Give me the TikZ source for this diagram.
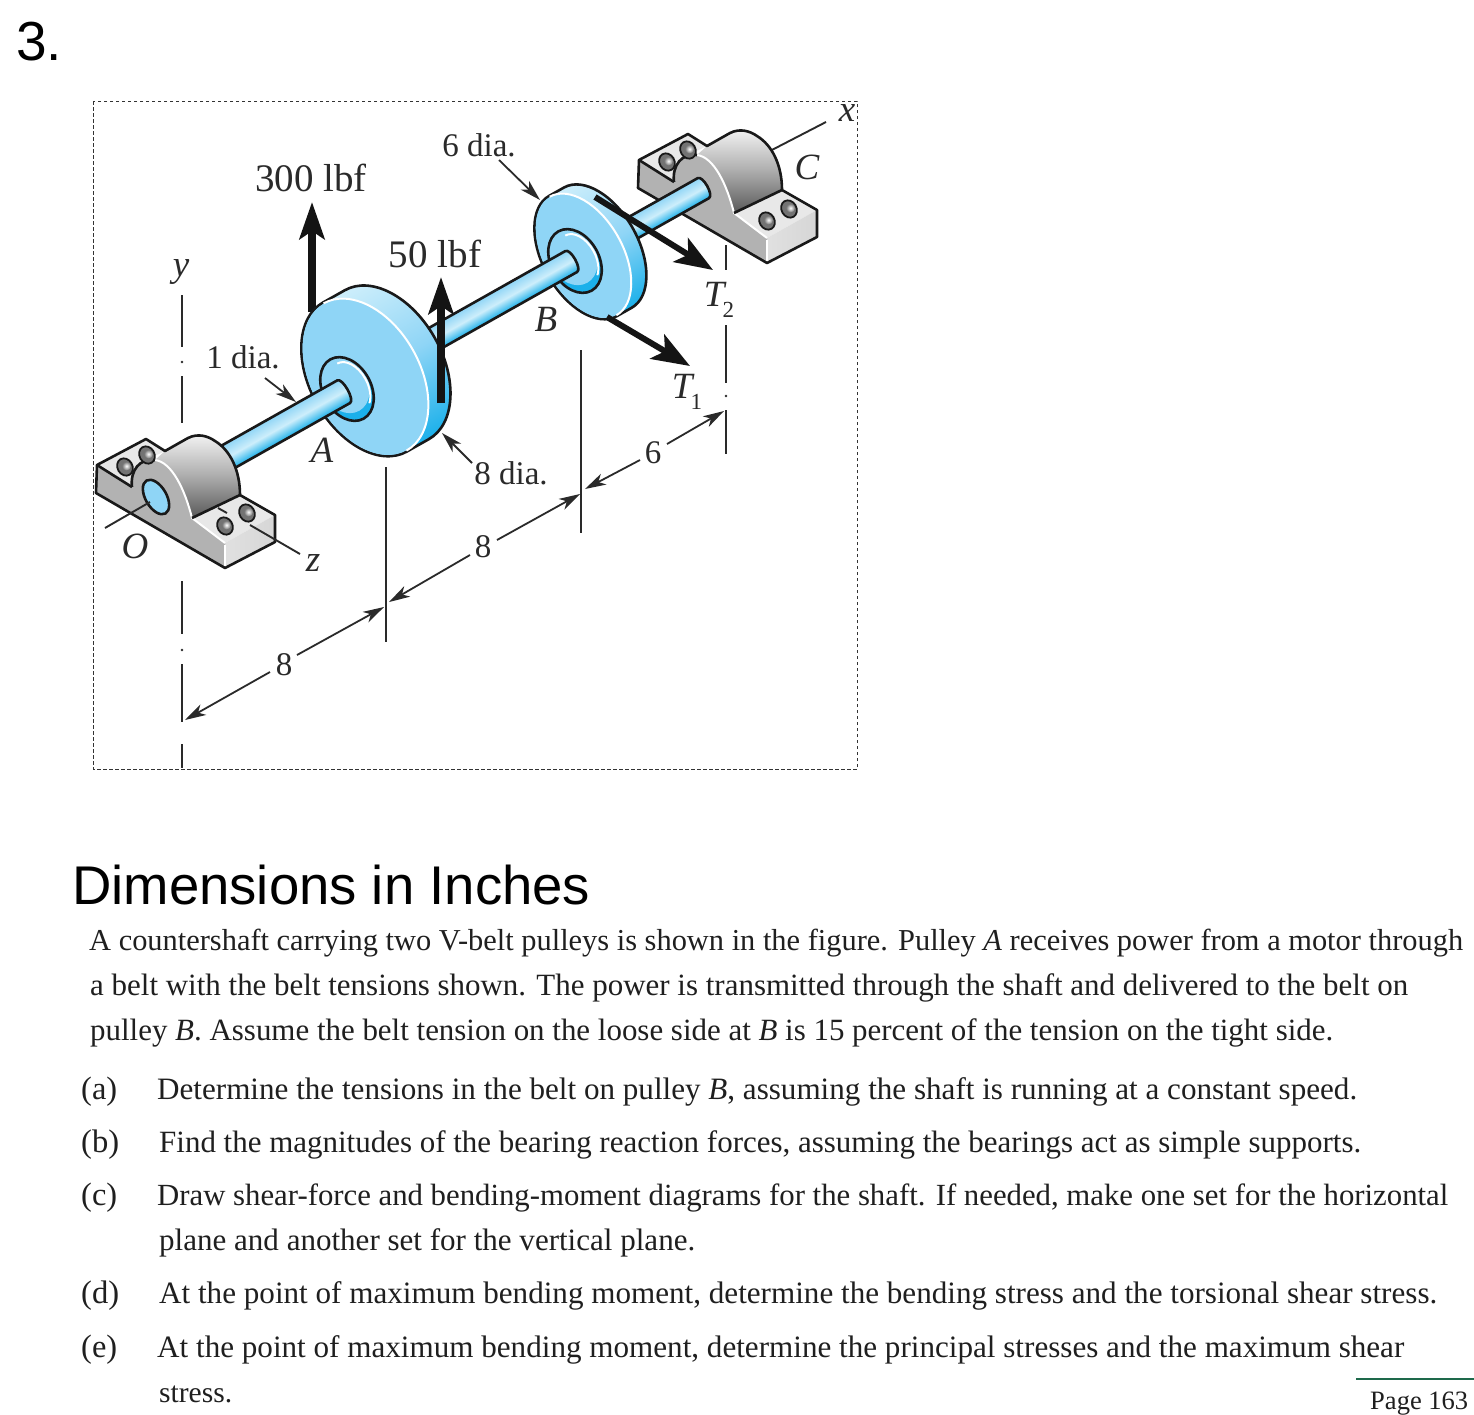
\documentclass[tikz,border=0pt]{standalone}
\usepackage{graphicx}
\usepackage{fontspec}
\setmainfont{Liberation Serif}
\newfontfamily\arialf{Liberation Sans}
\usetikzlibrary{arrows.meta}
\definecolor{face}{HTML}{8FD5F6}
\definecolor{satblue}{HTML}{1BB0EA}
\definecolor{glint}{HTML}{CDEEFB}
\definecolor{ink}{HTML}{2A2A2A}
\tikzset{
  lab/.style={inner sep=0pt,text=ink,font=\fontsize{33}{38}\selectfont},
  biglab/.style={inner sep=0pt,text=ink,font=\fontsize{39}{44}\selectfont},
  ital/.style={inner sep=0pt,text=ink,font=\fontsize{37}{42}\selectfont\itshape},
  bodytxt/.style={anchor=base west,inner sep=0pt,text=black!88,font=\fontsize{29}{34}\selectfont},
  sanstxt/.style={anchor=base west,inner sep=0pt,text=black,font=\arialf\fontsize{55}{60}\selectfont},
  dimline/.style={line width=1.8pt,draw=ink,-{Stealth[length=21pt,width=12pt,inset=6pt]}},
  thin line/.style={line width=1.9pt,draw=ink},
  force/.style={line width=8pt,draw=black!92,-{Stealth[length=37pt,width=25pt,inset=8pt]}},
  belt/.style={line width=6pt,draw=black!92,-{Stealth[length=38pt,width=28pt,inset=9pt]}},
  edge line/.style={line width=2.6pt,draw=black!90,line join=round},
}
% x y length half-width: shaded shaft with a rounded far end
\newcommand\ShaftSeg[4]{%
  \begin{scope}[transform canvas={shift={(#1,#2)},rotate=29.4}]
    \shade[top color=face,bottom color=satblue,middle color=glint]
      (0,-#4) -- (#3,-#4) .. controls (#3+6,-#4) and (#3+6,#4) .. (#3,#4) -- (0,#4) -- cycle;
    \draw[edge line] (0,-#4) -- (#3,-#4) .. controls (#3+6,-#4) and (#3+6,#4) .. (#3,#4) -- (0,#4);
  \end{scope}}
% cx cy a b t
\newcommand\Pulley[5]{%
  \begin{scope}[transform canvas={shift={(#1,#2)},rotate=29.4}]
    \shade[top color=glint,bottom color=satblue,middle color=face]
      (0,-#3) -- (#5,-#3) arc[start angle=90,end angle=-90,x radius=#4pt,y radius=#3pt]
      -- (0,#3) arc[start angle=-90,end angle=-270,x radius=#4pt,y radius=#3pt] -- cycle;
    \fill[face] (0,0) ellipse[x radius=#4pt,y radius=#3pt];
    \draw[edge line]
      (0,-#3) -- (#5,-#3) arc[start angle=90,end angle=-90,x radius=#4pt,y radius=#3pt]
      -- (0,#3) arc[start angle=-90,end angle=-270,x radius=#4pt,y radius=#3pt] -- cycle;
    \fill[face] (0,0) ellipse[x radius=#4pt-1.3pt,y radius=#3pt-1.3pt];
    \draw[white,line width=2pt] (0,-#3+1) arc[start angle=90,end angle=-90,x radius=#4pt,y radius=#3pt-1pt];
  \end{scope}}
% cx cy of boss centre (absolute)
\newcommand\Hub[2]{%
  \begin{scope}[transform canvas={shift={(#1,#2)},rotate=29.4}]
    \fill[satblue] (0,0) ellipse[x radius=24pt,y radius=34pt];
    \fill[face] (0,-7) ellipse[x radius=24pt,y radius=32pt];
    \draw[white,line width=2pt] (4,-27) arc[start angle=90,end angle=-60,x radius=17pt,y radius=27pt];
    \draw[edge line] (0,0) ellipse[x radius=24pt,y radius=34pt];
  \end{scope}}
\newcommand\Bolt[2]{%
  \begin{scope}[shift={(#1,#2)}]
    \fill[black!55,rotate=-60] (0,0) ellipse[x radius=9pt,y radius=7.5pt];
    \shade[inner color=white,outer color=black!55] (1.5,-1) circle (4.5pt);
    \draw[black!90,line width=1.8pt,rotate=-60] (0,0) ellipse[x radius=9pt,y radius=7.5pt];
  \end{scope}}
% pillow block, drawn at O and shifted by #1,#2
\newcommand\Bearing[2]{%
  \begin{scope}[shift={(#1,#2)}]
    \fill[black!9] (97,465) -- (146,439) -- (165,451) -- (140,463) -- (132,487) -- cycle;
    \fill[black!9] (192,518) -- (240,495) -- (275,515) -- (225,543) -- cycle;
    \shade[left color=black!12,right color=black!16] (225,543) -- (275,515) -- (275,542) -- (225,568) -- cycle;
    \fill[black!30]
      (97,465) -- (132,487) .. controls (130,470) and (140,458) .. (155,460)
      .. controls (172,462) and (185,490) .. (192,518) -- (225,543) -- (225,568) -- (96,493) -- cycle;
    \shade[shading angle=30,top color=black!4,bottom color=black!65,middle color=black!32]
      (155,460) -- (165,451) -- (188,438) .. controls (198,433) and (208,436) .. (215,441)
      .. controls (230,450) and (240,470) .. (240,495) -- (192,518)
      .. controls (185,490) and (172,462) .. (155,460) -- cycle;
    \draw[white,line width=2pt] (155,460) .. controls (172,462) and (185,490) .. (192,518) -- (225,543);
    \draw[white,line width=1.5pt] (225,545) -- (225,566);
    \draw[edge line] (132,487) .. controls (130,470) and (140,458) .. (155,460);
    \draw[edge line] (192,518) -- (240,495);
    \draw[edge line] (97,465) -- (146,439) -- (165,451) -- (188,438)
      .. controls (198,433) and (208,436) .. (215,441)
      .. controls (230,450) and (240,470) .. (240,495) -- (275,515) -- (275,542) -- (225,568) -- (96,493) -- cycle;
    \draw[edge line] (97,465) -- (132,487);
  \end{scope}}
\begin{document}
\begin{tikzpicture}[x=1pt,y=-1pt]
\useasboundingbox (0,0) rectangle (1474,1414);
\fill[white] (0,0) rectangle (1474,1414);
% frame
\draw[black!80,line width=0.9pt,dash pattern=on 3.5pt off 2.5pt] (93,101) rectangle (857,769);
% extension lines
\draw[thin line] (182,295) -- (182,347);
\fill[ink] (182,362) circle (1.4pt);
\draw[thin line] (182,376) -- (182,423);
\draw[thin line] (182,581) -- (182,634);
\fill[ink] (182,650) circle (1.4pt);
\draw[thin line] (182,664) -- (182,722);
\draw[thin line] (182,744) -- (182,768);
\draw[thin line] (386,467) -- (386,642);
\draw[thin line] (581,350) -- (581,533);
\draw[thin line] (726,245) -- (726,270);
\draw[thin line] (726,325) -- (726,383);
\fill[ink] (726,396) circle (1.4pt);
\draw[thin line] (726,410) -- (726,454);
% axes
\coordinate (xa) at (768,152); \coordinate (xb) at (826,122);
\draw[thin line] (xa) -- (xb);
% far bearing and shaft behind pulley B
\Bearing{542}{-305}
\Bolt{667}{162}\Bolt{688}{150}\Bolt{767}{221}\Bolt{789}{209}
\ShaftSeg{590}{252}{130}{11.5}
% pulley B
\Pulley{583}{256}{69}{40}{17}
\Hub{575}{261}
\ShaftSeg{400}{358}{196.5}{12}
% belt arrows at B
\coordinate (t2a) at (595,197); \coordinate (t2b) at (713,270);
\coordinate (t1a) at (607,317); \coordinate (t1b) at (690,366);
\draw[belt] (t2a) -- (t2b);
\draw[belt] (t1a) -- (t1b);
% 300 lbf behind pulley A
\coordinate (f1a) at (312,312); \coordinate (f1b) at (312,202);
\draw[force] (f1a) -- (f1b);
% pulley A
\Pulley{365}{377}{85.5}{55}{25}
\Hub{347}{389}
\ShaftSeg{226}{458}{135}{13}
\coordinate (f2a) at (441,403); \coordinate (f2b) at (441,277);
\draw[force] (f2a) -- (f2b);
% near bearing
\Bearing{0}{0}
\Bolt{125}{467}\Bolt{147}{455}\Bolt{225}{526}\Bolt{247}{513}
\begin{scope}[shift={(156,497)},rotate=-60]
  \fill[face] (0,0) ellipse[x radius=19pt,y radius=10.5pt];
  \draw[edge line] (0,0) ellipse[x radius=19pt,y radius=10.5pt];
\end{scope}
\coordinate (oa) at (105,528); \coordinate (ob) at (150,502);
\draw[thin line] (oa) -- (ob);
\coordinate (za) at (250,525); \coordinate (zb) at (300,554);
\draw[thin line] (za) -- (zb);
\draw[thin line] (218,508) -- (227,513);
% leaders
\coordinate (l6a) at (499,160); \coordinate (l6b) at (540,200);
\coordinate (l1a) at (265,378); \coordinate (l1b) at (296,402);
\coordinate (l8a) at (472,463); \coordinate (l8b) at (442,433);
\draw[dimline] (l6a) -- (l6b);
\draw[dimline] (l1a) -- (l1b);
\draw[dimline] (l8a) -- (l8b);
% dimension lines
\node[lab] (d1) at (284,665) {8};
\node[lab] (d2) at (483,547) {8};
\node[lab] (d3) at (653,453) {6};
\coordinate (d1l) at (185,720); \coordinate (d1r) at (384,607);
\coordinate (d2l) at (389,602); \coordinate (d2r) at (580,494);
\coordinate (d3l) at (585,489); \coordinate (d3r) at (724,411);
\draw[dimline] (270,672) -- (d1l);
\draw[dimline] (297,655) -- (d1r);
\draw[dimline] (470,555) -- (d2l);
\draw[dimline] (497,540) -- (d2r);
\draw[dimline] (640,460) -- (d3l);
\draw[dimline] (667,444) -- (d3r);
% labels
\node[biglab] (l300) at (311,178) {300 lbf};
\node[biglab] (l50) at (435,254) {50 lbf};
\node[lab] (ld6) at (479,145) {6 dia.};
\node[lab] (ld1) at (243,357) {1 dia.};
\node[lab] (ld8) at (511,473) {8 dia.};
\node[ital] (ly) at (181,272) {y};
\node[ital] (lO) at (135,546) {O};
\node[ital] (lz) at (313,563) {z};
\node[ital] (lA) at (322,450) {A};
\node[ital] (lB) at (546,319) {B};
\node[ital] (lC) at (807,167) {C};
\node[ital] (lx) at (847,113) {x};
\node[ital] (lT2) at (719,300) {T\kern-2pt\raisebox{-0.3em}{\upshape\fontsize{23}{23}\selectfont 2}};
\node[ital] (lT1) at (687,392) {T\kern-2pt\raisebox{-0.3em}{\upshape\fontsize{23}{23}\selectfont 1}};
% headings
\node[sanstxt] (num) at (16,60) {3.};
\node[sanstxt] (head) at (72,904) {\resizebox{518pt}{!}{Dimensions in Inches}};
% body
\newcommand\fitline[5]{\node[bodytxt] (#1) at (#2,#3) {\resizebox{#4pt}{!}{#5}};}
\fitline{p1}{89}{950}{1374}{A countershaft carrying two V-belt pulleys is shown in the figure. Pulley \textit{A} receives power from a motor through}
\fitline{p2}{90}{995}{1318}{a belt with the belt tensions shown. The power is transmitted through the shaft and delivered to the belt on}
\fitline{p3}{90}{1040}{1243}{pulley \textit{B}. Assume the belt tension on the loose side at \textit{B} is 15 percent of the tension on the tight side.}
\fitline{qa}{81}{1099}{36}{(a)}
\fitline{ta}{157}{1099}{1200}{Determine the tensions in the belt on pulley \textit{B}, assuming the shaft is running at a constant speed.}
\fitline{qb}{81}{1152}{38}{(b)}
\fitline{tb}{159}{1152}{1202}{Find the magnitudes of the bearing reaction forces, assuming the bearings act as simple supports.}
\fitline{qc}{81}{1205}{36}{(c)}
\fitline{tc}{157}{1205}{1291}{Draw shear-force and bending-moment diagrams for the shaft. If needed, make one set for the horizontal}
\fitline{tc2}{159}{1250}{536}{plane and another set for the vertical plane.}
\fitline{qd}{81}{1303}{38}{(d)}
\fitline{td}{159}{1303}{1278}{At the point of maximum bending moment, determine the bending stress and the torsional shear stress.}
\fitline{qe}{81}{1357}{36}{(e)}
\fitline{te}{157}{1357}{1247}{At the point of maximum bending moment, determine the principal stresses and the maximum shear}
\fitline{te2}{159}{1402}{73}{stress.}
\draw[draw={rgb,255:red,30;green,105;blue,75},line width=2.5pt] (1356,1379) -- (1474,1379);
\node[bodytxt,font=\fontsize{26}{30}\selectfont] (pg) at (1370,1409) {\resizebox{98pt}{!}{Page 163}};
\end{tikzpicture}
\end{document}
